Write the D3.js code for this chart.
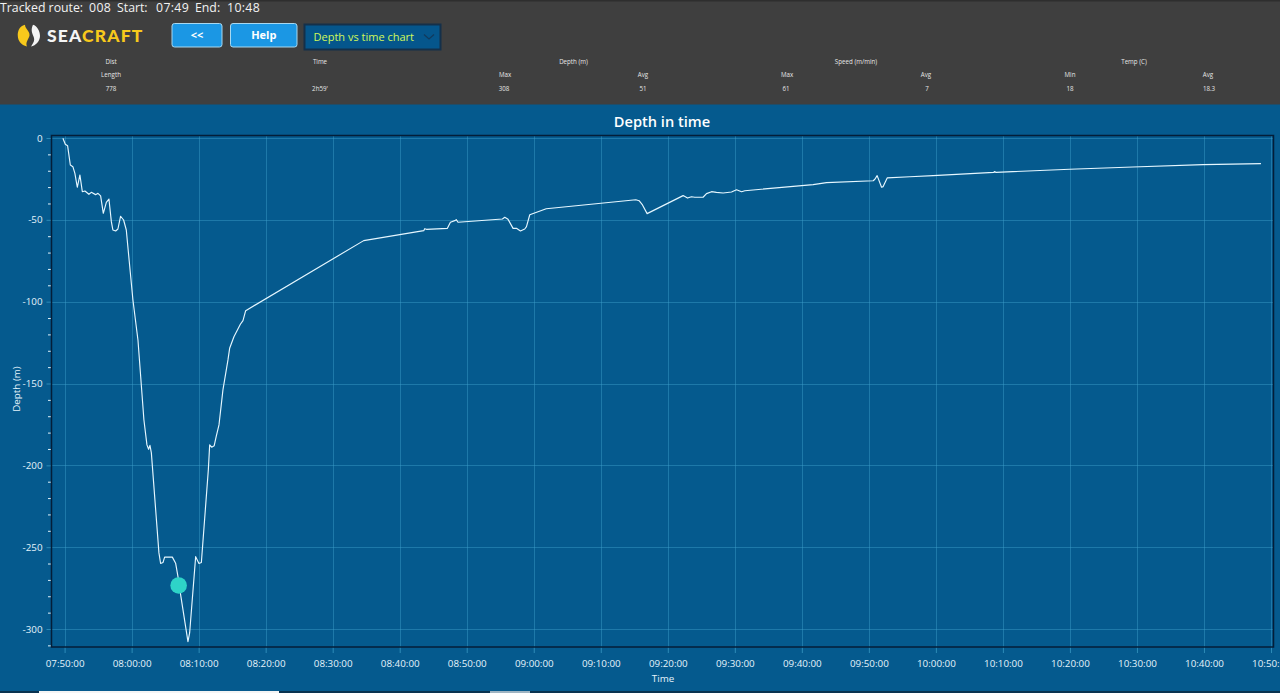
<!DOCTYPE html>
<html>
<head>
<meta charset="utf-8">
<script src="https://cdn.jsdelivr.net/npm/d3@7"></script>
<style>
html,body{margin:0;padding:0;background:#055a8e;overflow:hidden}
svg{display:block;font-family:"Open Sans",sans-serif}
</style>
</head>
<body>
<svg id="c" width="1280" height="693"></svg>
<script>
// Minutes elapsed since 07:50:00
const elapsedMinutes = [-0.33,0.03,0.37,0.78,1.16,1.46,1.82,2.21,2.57,2.96,3.55,3.91,4.55,4.90,5.30,5.70,6.15,6.54,6.90,7.13,7.54,7.88,8.28,8.73,9.13,9.48,10.12,10.87,11.76,12.21,12.46,12.66,12.87,14.00,14.25,14.60,14.85,16.00,16.49,16.84,17.24,18.33,18.58,19.48,19.97,20.33,21.37,21.57,21.87,22.24,22.54,22.96,23.55,24.30,24.55,25.19,26.15,26.54,26.94,44.55,53.51,53.66,53.91,57.04,57.49,58.13,58.36,58.63,65.25,65.60,66.09,66.84,67.34,67.94,68.58,68.84,69.33,71.79,85.15,85.64,86.15,86.84,92.21,92.87,93.46,93.96,95.19,95.70,96.45,97.19,98.18,99.43,100.18,100.93,101.42,111.61,113.61,120.57,120.82,121.16,121.82,122.06,122.66,126.05,129.52,138.55,138.66,138.90,149.90,159.30,169.78,178.43];
const depthMetres = [-0.2,-3.8,-4.7,-16.5,-17.5,-21.6,-30.1,-22.6,-32.8,-32.4,-34.4,-33.2,-34.6,-33.8,-35.4,-46.0,-39.3,-37.3,-51.1,-56.2,-56.8,-55.6,-47.8,-50.1,-56.2,-71.5,-99.0,-123.4,-172.3,-187.5,-190.2,-187.8,-192.4,-253.5,-260.0,-259.4,-256.1,-256.1,-259.8,-268.0,-279.2,-307.7,-302.4,-255.8,-260.0,-259.4,-202.8,-187.5,-188.9,-188.1,-182.5,-175.3,-153.9,-135.6,-128.5,-121.4,-113.8,-111.6,-105.5,-62.7,-56.6,-55.4,-55.8,-55.2,-51.5,-50.5,-49.9,-51.5,-49.5,-48.4,-49.7,-55.2,-55.2,-56.8,-55.6,-54.2,-46.9,-43.2,-37.7,-38.3,-40.9,-46.2,-35.2,-36.7,-35.9,-36.2,-36.2,-34.0,-32.8,-33.2,-33.6,-33.0,-31.6,-32.8,-32.2,-28.5,-27.3,-26.1,-25.2,-23.0,-30.1,-29.7,-24.4,-23.7,-23.0,-21.0,-20.5,-21.0,-19.1,-17.7,-16.3,-15.7];
const markerMinutes = [16.94];
const markerDepth = [-273.4];
const xTickMinutes = [0,10,20,30,40,50,60,70,80,90,100,110,120,130,140,150,160,170,180];
const yMajorTicks = [0,-50,-100,-150,-200,-250,-300];
const yMinorTicks = [-10,-20,-30,-40,-60,-70,-80,-90,-110,-120,-130,-140,-160,-170,-180,-190,-210,-220,-230,-240,-260,-270,-280,-290,-310];
const xExtentMinutes = [-2.03,180.3];
const yExtent = [-311,1.53];
const headerParts = ["Tracked route:","008","Start:","07:49","End:","10:48"];
const tableHeads = ["Dist","Time","Depth (m)","Speed (m/min)","Temp (C)"];
const tableSubs = ["Length","Max","Avg","Max","Avg","Min","Avg"];
const tableVals = ["778","2h59'","308","51","61","7","18","18.3"];
const buttonLabels = ["<<","Help"];
const chartMode = "Depth vs time chart";

const svg = d3.select("#c");
const base = new Date(2020,0,1,7,50,0);
const toDate = m => new Date(base.getTime()+m*60000);
const L=51.5,R=1273.5,T=135.5,B=647;
const x = d3.scaleTime().domain(xExtentMinutes.map(toDate)).range([L,R]);
const y = d3.scaleLinear().domain(yExtent).range([B,T]);
const fmt = d3.timeFormat("%H:%M:%S");

// Panels
svg.append("rect").attr("width",1280).attr("height",693).attr("fill","#055a8e");
svg.append("rect").attr("width",1280).attr("height",104.5).attr("fill","#3f3f3f");
svg.append("rect").attr("width",1280).attr("height",1.5).attr("fill","#2e2e2e");

// Header
const headerX=[0,89,117,156,195,227];
headerParts.forEach((t,i)=>svg.append("text").attr("x",headerX[i]).attr("y",12)
  .attr("fill","#f2f2f2").attr("font-size",12.3).attr("letter-spacing",i%2?0.35:0).text(t));

// Logo
const logo = svg.append("g");
logo.append("path").attr("fill","#f8c91c")
  .attr("d","M25,24.8 C19,26 17.5,32 17.8,36 C18,41 21,45 27,46.5 C25,42 29,39 29.5,35.5 C30,31 25,29 25,24.8 Z");
logo.append("path").attr("fill","#f4f4f4")
  .attr("d","M33,24.8 C37,26 40,31 40,36 C40,41 36,45.5 31,46.5 C34,42 35,40 33.5,36.5 C31.5,32 31,29 33,24.8 Z");
const lt = logo.append("text").attr("x",47).attr("y",42.3).attr("font-family","Lato, sans-serif")
  .attr("font-weight",900).attr("font-size",17.5).attr("letter-spacing",1.15);
lt.append("tspan").attr("fill","#f4f4f4").text("SEA");
lt.append("tspan").attr("fill","#f8c91c").text("CRAFT");

// Buttons
const btnX=[172,230.5], btnW=[50,66.5];
buttonLabels.forEach((t,i)=>{
  svg.append("rect").attr("x",btnX[i]).attr("y",23.5).attr("width",btnW[i]).attr("height",23.5).attr("rx",2.5)
    .attr("fill","#1b97e4").attr("stroke","#a8d8f0").attr("stroke-width",1);
  svg.append("text").attr("x",btnX[i]+btnW[i]/2).attr("y",39).attr("text-anchor","middle")
    .attr("fill","#fff").attr("font-weight",700).attr("font-size",11).text(t);
});
svg.append("rect").attr("x",304.5).attr("y",24.5).attr("width",136).attr("height",25)
  .attr("fill","#05568c").attr("stroke","#14304a").attr("stroke-width",2);
svg.append("text").attr("x",313.5).attr("y",41).attr("fill","#d0f85a").attr("font-size",11).text(chartMode);
svg.append("path").attr("d","M424,34.5 L429,39 L434,34.5").attr("fill","none").attr("stroke","#123a5c").attr("stroke-width",1.2);

// Stats table
const headX=[111,320,573.5,856,1134], subX=[111,505,643,787,926,1070,1208], valX=[111,320,504,643,786,927,1070,1209];
const row=(arr,xs,yy)=>arr.forEach((t,i)=>svg.append("text").attr("x",xs[i]).attr("y",yy).attr("text-anchor","middle")
  .attr("fill","#e6e6e6").attr("font-size",6.2).text(t));
row(tableHeads,headX,63.5); row(tableSubs,subX,77); row(tableVals,valX,90.5);

// Title
svg.append("text").attr("x",662).attr("y",127).attr("text-anchor","middle").attr("fill","#fff")
  .attr("font-weight",600).attr("font-size",14.6).text("Depth in time");

// Grid
const grid = svg.append("g").attr("stroke","#3f9fc9").attr("stroke-opacity",.45).attr("stroke-width",1);
xTickMinutes.forEach(m=>{
  const px=Math.floor(x(toDate(m)))+.5;
  grid.append("line").attr("x1",px).attr("x2",px).attr("y1",T).attr("y2",B);
});
yMajorTicks.forEach(v=>{
  const py=Math.round(y(v))+.5;
  grid.append("line").attr("x1",L).attr("x2",R).attr("y1",py).attr("y2",py);
});

// Axes
const xAxis = svg.append("g").attr("transform",`translate(0,${B})`)
  .call(d3.axisBottom(x).offset(0).tickValues(xTickMinutes.map(toDate)).tickFormat(fmt).tickSize(6).tickPadding(7));
xAxis.select(".domain").remove();
xAxis.selectAll("line").attr("stroke","#3f9fc9").attr("stroke-opacity",.7);
xAxis.selectAll("text").attr("fill","#e4f3fb").attr("font-size",9.8).attr("font-family","'Open Sans',sans-serif");

const yAxis = svg.append("g").attr("transform",`translate(${L},0)`)
  .call(d3.axisLeft(y).tickValues(yMajorTicks).tickFormat(d=>String(d)).tickSize(5).tickPadding(4));
yAxis.select(".domain").remove();
yAxis.selectAll("line").attr("stroke","#3f9fc9").attr("stroke-opacity",.7);
yAxis.selectAll("text").attr("fill","#e4f3fb").attr("font-size",9.8).attr("font-family","'Open Sans',sans-serif");

const yMinor = svg.append("g").attr("transform",`translate(${L},0)`)
  .call(d3.axisLeft(y).tickValues(yMinorTicks).tickFormat("").tickSize(3.5));
yMinor.select(".domain").remove();
yMinor.selectAll("line").attr("stroke","#dff2fb");

// Frame
svg.append("rect").attr("x",L).attr("y",T).attr("width",R-L).attr("height",B-T)
  .attr("fill","none").attr("stroke","#041e38").attr("stroke-width",1.5);

// Axis titles
svg.append("text").attr("x",663).attr("y",681.5).attr("text-anchor","middle").attr("fill","#e4f3fb").attr("font-size",9.8).text("Time");
svg.append("text").attr("transform","translate(19.5,389) rotate(-90)").attr("text-anchor","middle")
  .attr("fill","#e4f3fb").attr("font-size",9.8).text("Depth (m)");

// Line
const line = d3.line().x((m)=>x(toDate(m))).y((m,i)=>y(depthMetres[i]));
svg.append("path").datum(elapsedMinutes).attr("d",line).attr("fill","none")
  .attr("stroke","#e6f7ff").attr("stroke-width",1.15).attr("stroke-linejoin","round");

// Position marker
svg.selectAll("circle.marker").data(markerMinutes).join("circle").attr("class","marker")
  .attr("cx",m=>x(toDate(m))).attr("cy",(m,i)=>y(markerDepth[i])).attr("r",8.3).attr("fill","#2ed4c8");

// Bottom edge strip
svg.append("rect").attr("y",691).attr("width",1280).attr("height",2).attr("fill","#0a3350");
svg.append("rect").attr("x",39).attr("y",691).attr("width",240).attr("height",2).attr("fill","#f4f4f4");
svg.append("rect").attr("x",490).attr("y",691).attr("width",40).attr("height",2).attr("fill","#9fb4c2");
</script>
</body>
</html>
